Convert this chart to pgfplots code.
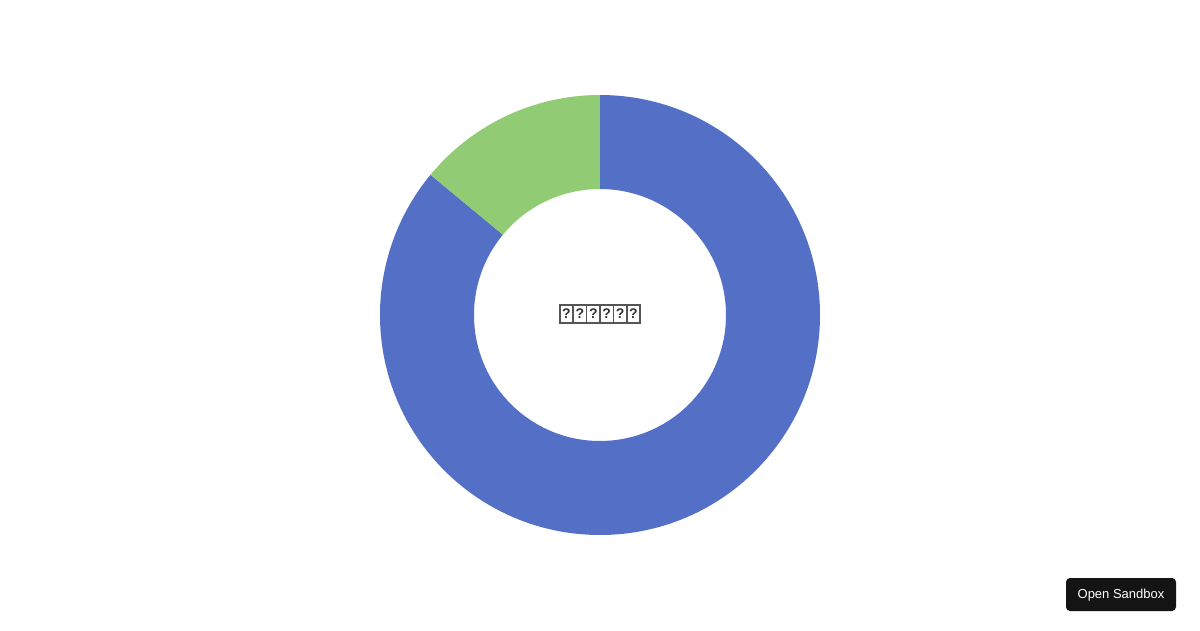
\documentclass[border=0pt]{standalone}
\usepackage{pgfplots}
\pgfplotsset{compat=1.18}
\usepackage{pgfplotstable}
\usepackage{fontspec}
\setmainfont{Liberation Sans}
\definecolor{cA}{HTML}{5470C6}
\definecolor{cB}{HTML}{91CC75}
\definecolor{btn}{HTML}{141414}
\definecolor{tofu}{HTML}{555555}
\pgfplotstableread{
label value
A 86
B 14
}\piedata
\newcommand\tofu{{\setlength\fboxsep{1.0pt}\setlength\fboxrule{1.6pt}\fcolorbox{tofu}{white}{\makebox[9.8pt]{\rule[-3pt]{0pt}{14.5pt}\bfseries\color{tofu!60!black}?}}}}
\begin{document}
\begin{tikzpicture}
\pgfplotstablegetelem{0}{value}\of\piedata \let\va\pgfplotsretval
\pgfplotstablegetelem{1}{value}\of\piedata \let\vb\pgfplotsretval
\pgfmathsetmacro\tot{\va+\vb}
\pgfmathsetmacro\fa{\va/\tot}
\pgfmathsetmacro\fb{\vb/\tot}
\pgfmathsetmacro\aEnd{90-360*\fa}
\pgfmathsetmacro\bEnd{\aEnd-360*\fb}
\def\Ro{220pt}
\def\Ri{126pt}
\begin{axis}[
  x=1pt, y=1pt, scale only axis,
  xmin=-600, xmax=600, ymin=-315, ymax=315,
  hide axis, clip=false,
]
\path (axis cs:-600,-315) rectangle (axis cs:600,315);
\coordinate (O) at (axis cs:0,0);
\fill[cA] ([shift={(90:\Ro)}]O) arc[start angle=90, end angle=\aEnd, radius=\Ro]
   -- ([shift={(\aEnd:\Ri)}]O) arc[start angle=\aEnd, end angle=90, radius=\Ri] -- cycle;
\fill[cB] ([shift={(\aEnd:\Ro)}]O) arc[start angle=\aEnd, end angle=\bEnd, radius=\Ro]
   -- ([shift={(\bEnd:\Ri)}]O) arc[start angle=\bEnd, end angle=\aEnd, radius=\Ri] -- cycle;
\node[inner sep=0pt, font=\fontsize{14pt}{16pt}\selectfont] at (axis cs:0,1)
  {\tofu\hspace{-1.6pt}\tofu\hspace{-1.6pt}\tofu\hspace{-1.6pt}\tofu\hspace{-1.6pt}\tofu\hspace{-1.6pt}\tofu};
\fill[btn, rounded corners=4pt] (axis cs:466,-263) rectangle (axis cs:576,-296);
\node[text=white, font=\fontsize{13pt}{15pt}\selectfont] at (axis cs:521,-280.5) {Open Sandbox};
\end{axis}
\end{tikzpicture}
\end{document}
